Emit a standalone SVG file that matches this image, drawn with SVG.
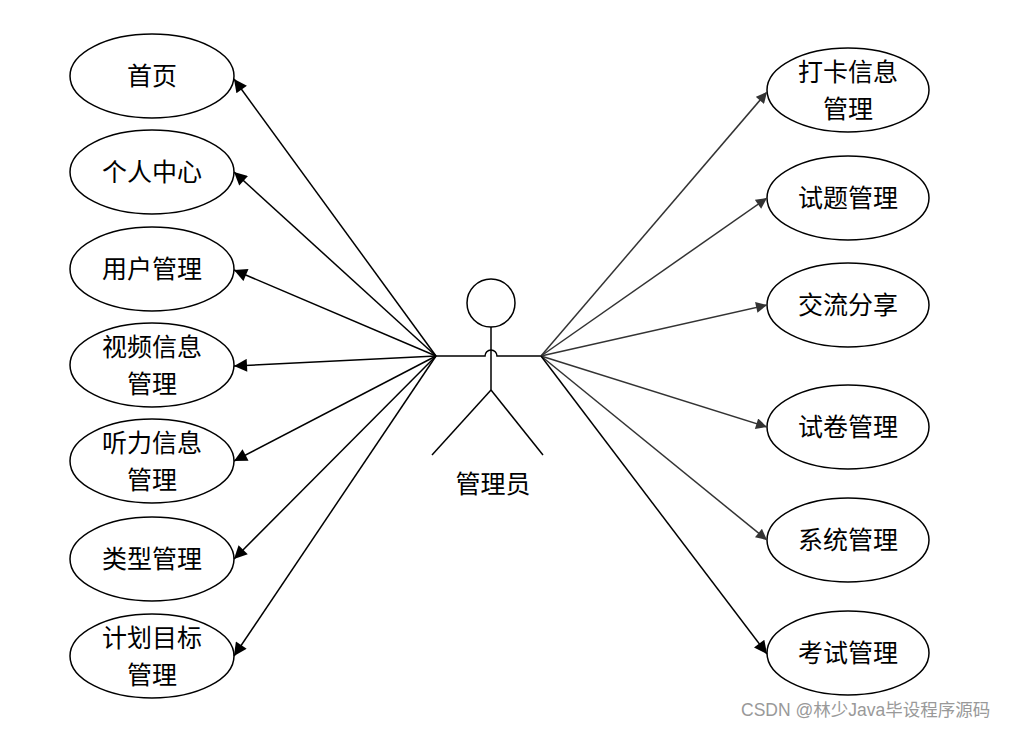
<svg xmlns="http://www.w3.org/2000/svg" width="1026" height="729" viewBox="0 0 1026 729">
<style>
.n ellipse{fill:#fff;stroke:#000;stroke-width:1.5}
.n text,.lbl{font-family:"Liberation Serif","Noto Sans CJK SC",serif;font-size:25px;fill:#000;text-anchor:middle}
.c line{stroke:#000;stroke-width:1.5}
.c .r{stroke:#333}
.wm{font-family:"Liberation Sans","Noto Sans CJK SC",sans-serif;font-size:17.5px;fill:#999}
</style>
<defs>
<marker id="a" viewBox="0 0 10 10" refX="10" refY="5" markerWidth="15" markerHeight="13" markerUnits="userSpaceOnUse" orient="auto"><path d="M0,0L10,5L0,10z" fill="#000"/></marker>
<marker id="b" viewBox="0 0 10 10" refX="10" refY="5" markerWidth="12" markerHeight="11" markerUnits="userSpaceOnUse" orient="auto"><path d="M0,0L10,5L0,10z" fill="#333"/></marker>
</defs>
<rect width="1026" height="729" fill="#fff"/>
<g id="l1" class="n"><ellipse cx="152" cy="76" rx="82" ry="42"/><text x="152" y="85">首页</text></g>
<g id="l2" class="n"><ellipse cx="152" cy="172" rx="82" ry="42"/><text x="152" y="181">个人中心</text></g>
<g id="l3" class="n"><ellipse cx="152" cy="269" rx="82" ry="42"/><text x="152" y="278">用户管理</text></g>
<g id="l4" class="n"><ellipse cx="152" cy="365" rx="82" ry="42"/><text x="152" y="356">视频信息</text><text x="152" y="393">管理</text></g>
<g id="l5" class="n"><ellipse cx="152" cy="461" rx="82" ry="42"/><text x="152" y="452">听力信息</text><text x="152" y="489">管理</text></g>
<g id="l6" class="n"><ellipse cx="152" cy="559" rx="82" ry="42"/><text x="152" y="568">类型管理</text></g>
<g id="l7" class="n"><ellipse cx="152" cy="656" rx="82" ry="42"/><text x="152" y="647">计划目标</text><text x="152" y="684">管理</text></g>
<g id="r1" class="n"><ellipse cx="848" cy="90" rx="81" ry="42"/><text x="848" y="81">打卡信息</text><text x="848" y="118">管理</text></g>
<g id="r2" class="n"><ellipse cx="848" cy="198" rx="81" ry="42"/><text x="848" y="207">试题管理</text></g>
<g id="r3" class="n"><ellipse cx="848" cy="305" rx="81" ry="42"/><text x="848" y="314">交流分享</text></g>
<g id="r4" class="n"><ellipse cx="848" cy="427" rx="81" ry="42"/><text x="848" y="436">试卷管理</text></g>
<g id="r5" class="n"><ellipse cx="848" cy="540" rx="81" ry="42"/><text x="848" y="549">系统管理</text></g>
<g id="r6" class="n"><ellipse cx="848" cy="653" rx="81" ry="42"/><text x="848" y="662">考试管理</text></g>
<g id="actor" fill="none" stroke="#000" stroke-width="1.5">
<circle cx="491" cy="303" r="24"/>
<path d="M436,356H485A6,6 0 0 1 497,356H541"/>
<line x1="491" y1="327" x2="491" y2="390"/>
<line x1="491" y1="390" x2="432" y2="455"/>
<line x1="491" y1="390" x2="543" y2="455"/>
<text class="lbl" x="493" y="493" stroke="none">管理员</text>
</g>
<g class="c">
<line x1="436" y1="356" x2="234" y2="79" marker-end="url(#a)"/>
<line x1="436" y1="356" x2="234" y2="172" marker-end="url(#a)"/>
<line x1="436" y1="356" x2="234" y2="270" marker-end="url(#a)"/>
<line x1="436" y1="356" x2="234" y2="366" marker-end="url(#a)"/>
<line x1="436" y1="356" x2="234" y2="461" marker-end="url(#a)"/>
<line x1="436" y1="356" x2="234" y2="559" marker-end="url(#a)"/>
<line x1="436" y1="356" x2="234" y2="656" marker-end="url(#a)"/>
<line class="r" x1="541" y1="356" x2="767" y2="92" marker-end="url(#b)"/>
<line class="r" x1="541" y1="356" x2="767" y2="198" marker-end="url(#b)"/>
<line class="r" x1="541" y1="356" x2="767" y2="305" marker-end="url(#b)"/>
<line class="r" x1="541" y1="356" x2="767" y2="427" marker-end="url(#b)"/>
<line class="r" x1="541" y1="356" x2="767" y2="540" marker-end="url(#b)"/>
<line x1="541" y1="356" x2="767" y2="654" marker-end="url(#a)"/>
</g>
<text class="wm" x="741" y="716">CSDN @林少Java毕设程序源码</text>
</svg>
